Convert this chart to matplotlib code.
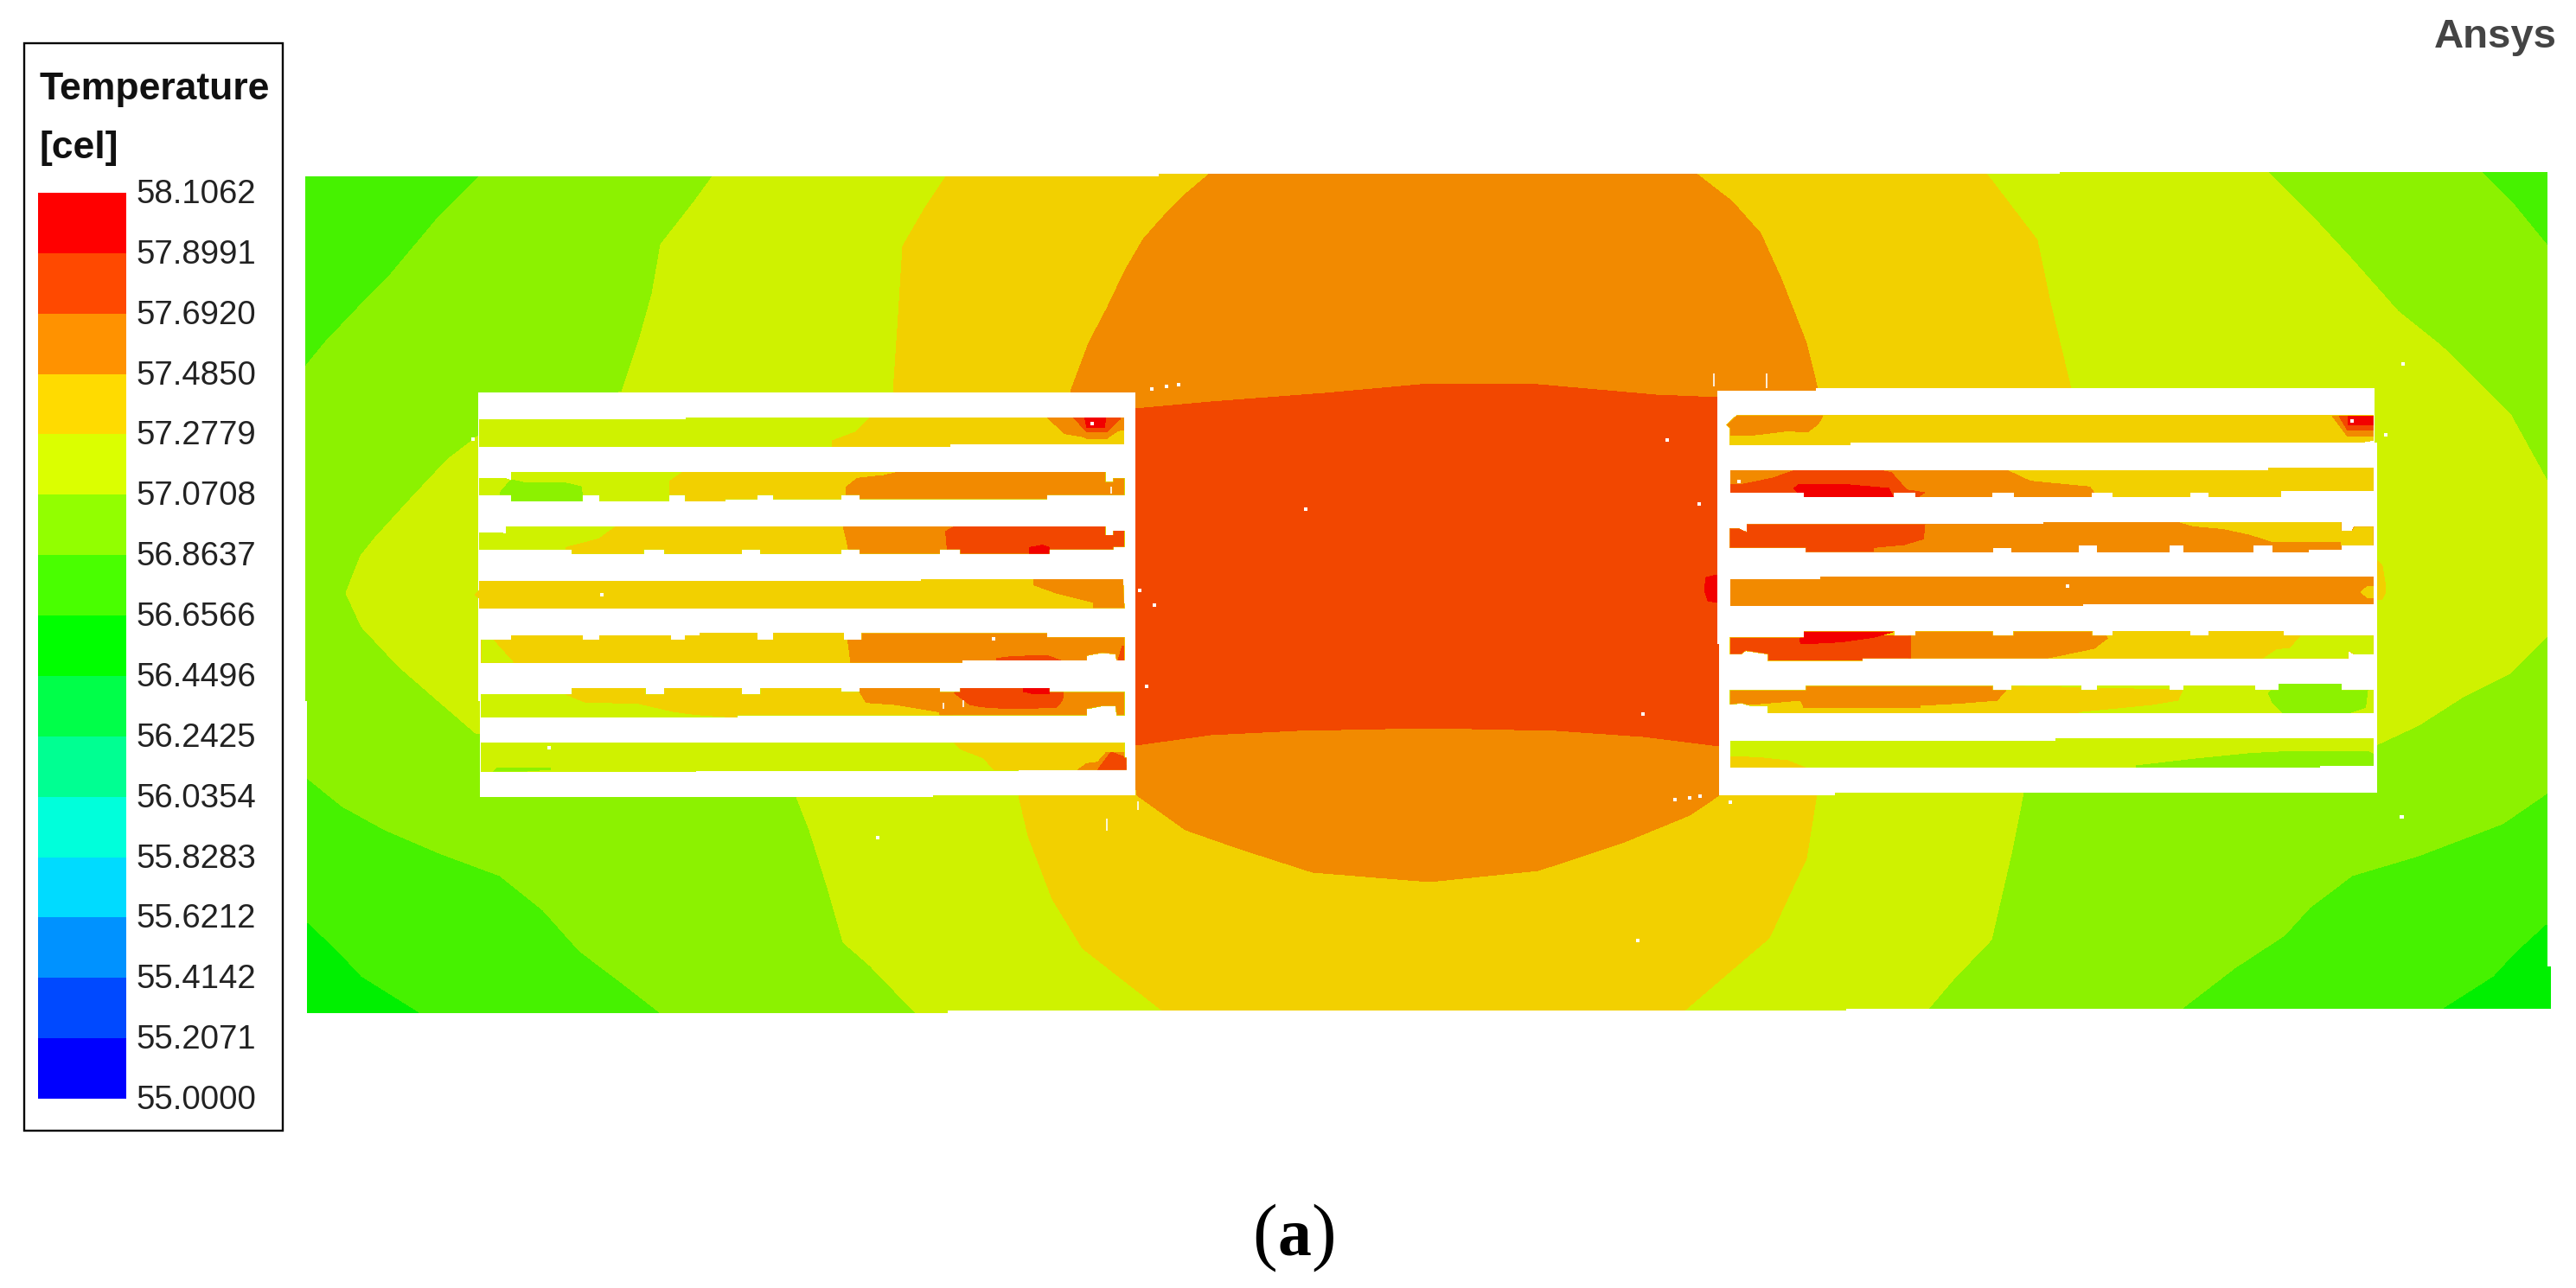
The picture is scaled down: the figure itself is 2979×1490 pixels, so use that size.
import numpy as np
import matplotlib
matplotlib.use('Agg')
import matplotlib.pyplot as plt
from matplotlib.colors import ListedColormap
from matplotlib.patches import Polygon, Rectangle
from matplotlib.transforms import ScaledTranslation

plt.rcParams['font.family'] = ['Liberation Sans', 'DejaVu Sans']

# legend
LEVELS = [55.0000, 55.2071, 55.4142, 55.6212, 55.8283, 56.0354, 56.2425, 56.4496,
          56.6566, 56.8637, 57.0708, 57.2779, 57.4850, 57.6920, 57.8991, 58.1062]
LEVEL_LABELS = ['55.0000', '55.2071', '55.4142', '55.6212', '55.8283', '56.0354', '56.2425', '56.4496',
                '56.6566', '56.8637', '57.0708', '57.2779', '57.4850', '57.6920', '57.8991', '58.1062']
BAND_COLORS = ['#0000FF', '#0049FF', '#0092FF', '#00DBFF', '#00FFDB', '#00FF92', '#00FF49', '#00FF00',
               '#49FF00', '#92FF00', '#DBFF00', '#FFDB00', '#FF9200', '#FF4900', '#FF0000']

# shaded field colours, coolest to hottest
C0, C1, C2, C3, C4, C5, C6, C7 = ('#00F000', '#46F200', '#8CF200', '#CFF200',
                                 '#F2D000', '#F28A00', '#F24700', '#F20000')

# field contours, in picture pixels
FIELD = [(353, 204), (1340, 204), (1340, 201), (2382, 201), (2382, 199), (2946, 199), (2946, 1118), (2950, 1118),
         (2950, 1167), (2135, 1167), (2135, 1169), (1096, 1169), (1096, 1172), (355, 1172), (355, 811), (353, 811)]
CORNER_L = [(340, 1068), (355, 1068), (389, 1100), (417, 1130), (484, 1172), (340, 1180)]
CORNER_R = [(2960, 1070), (2945, 1070), (2909, 1103), (2884, 1130), (2826, 1167), (2826, 1180), (2960, 1180)]
BAND_C2 = [(554, 190), (554, 204), (508, 250), (452, 317), (410, 360), (375, 397), (354, 423), (340, 423),
           (340, 900), (355, 900), (396, 933), (445, 960), (508, 987), (578, 1013), (628, 1053), (670, 1100),
           (719, 1137), (764, 1172), (764, 1180), (2523, 1180), (2523, 1167), (2584, 1120), (2642, 1082),
           (2671, 1050), (2720, 1013), (2797, 990), (2894, 953), (2945, 918), (2960, 918), (2960, 283),
           (2945, 283), (2904, 233), (2870, 199), (2870, 190)]
BAND_C3 = [(824, 190), (824, 204), (803, 233), (764, 283), (754, 340), (740, 390), (719, 453), (552, 505), (517, 532),
           (473, 579), (433, 623), (417, 643), (400, 686), (418, 725), (460, 770), (507, 811), (550, 848),
           (921, 922), (936, 960), (957, 1027), (975, 1090), (1006, 1117), (1059, 1172), (1059, 1180),
           (2230, 1180), (2230, 1167), (2259, 1133), (2303, 1087), (2327, 983), (2340, 917), (2750, 861),
           (2797, 839), (2847, 807), (2903, 779), (2946, 736), (2960, 736), (2960, 557), (2946, 557), (2903, 479),
           (2863, 439), (2823, 400), (2773, 360), (2720, 300), (2671, 247), (2623, 199), (2623, 190)]
BAND_C4 = [(1094, 190), (1094, 204), (1070, 240), (1044, 285), (1038, 380), (1033, 453), (1178, 920), (1189, 967),
           (1217, 1040), (1252, 1097), (1343, 1168), (1343, 1180), (1949, 1180), (1949, 1168), (2046, 1085),
           (2089, 993), (2101, 918), (2395, 450), (2371, 350), (2356, 278), (2298, 202), (2298, 190)]
BUMP_C4 = [(2749, 648), (2755, 655), (2759, 680), (2759, 685), (2754, 694), (2749, 694)]
BAND_C5 = [(1399, 190), (1399, 201), (1368, 227), (1343, 253), (1322, 277), (1301, 313), (1280, 357), (1259, 397),
           (1238, 453), (1315, 920), (1371, 960), (1434, 982), (1518, 1009), (1653, 1020), (1779, 1007), (1876, 975),
           (1954, 943), (1988, 920), (2102, 450), (2089, 397), (2060, 323), (2036, 270), (2003, 233), (1963, 202), (1963, 190)]
BAND_C6 = [(1313, 473), (1400, 465), (1532, 455), (1653, 444), (1779, 445), (1915, 457), (1988, 460),
           (1988, 863), (1900, 852), (1800, 845), (1653, 842), (1500, 845), (1400, 850), (1313, 862)]
BULGE_C7 = [(1986, 665), (1973, 668), (1971, 682), (1975, 695), (1986, 697)]

BLOCK_L = [(553, 454), (1313, 454), (1313, 920), (1079, 920), (1079, 922), (555, 922), (555, 811), (553, 811)]
BLOCK_R = [(1986, 452), (2100, 452), (2100, 449), (2746, 449), (2746, 512), (2749, 512), (2749, 917),
           (2122, 917), (2122, 920), (1988, 920), (1988, 745), (1986, 745)]

# strips inside the left block, in crop units: (outline, base colour, [(colour, region), ...])
STRIPS_L = [
    ([(28, 165), (495, 165), (495, 158), (1490, 158), (1490, 252), (1095, 252), (1095, 260), (28, 260)], C3, [
        (C4, [(915, 158), (880, 210), (828, 240), (828, 260), (1095, 260), (1500, 252), (1500, 150)]),
        (C5, [(1315, 158), (1355, 215), (1395, 225), (1405, 232), (1450, 232), (1475, 205), (1500, 200), (1500, 150)]),
        (C6, [(1375, 158), (1405, 210), (1450, 210), (1480, 165), (1480, 158)]),
        (C7, [(1400, 158), (1405, 195), (1445, 195), (1448, 158)])]),
    ([(28, 370), (85, 370), (100, 378), (100, 348), (1447, 348), (1447, 383), (1465, 383), (1465, 370), (1490, 370),
      (1490, 428), (1315, 428), (1315, 442), (890, 442), (890, 428), (848, 428), (848, 442), (695, 442), (695, 428),
      (658, 428), (658, 442), (585, 442), (585, 450), (495, 450), (495, 428), (458, 428), (458, 450), (300, 450),
      (300, 428), (262, 428), (262, 450), (100, 450), (100, 428), (28, 428)], C3, [
        (C2, [(75, 420), (100, 375), (130, 385), (220, 385), (260, 400), (262, 450), (75, 450)]),
        (C4, [(490, 348), (980, 348), (880, 370), (860, 400), (860, 450), (460, 450), (460, 380)]),
        (C5, [(980, 348), (1500, 348), (1500, 450), (860, 450), (860, 400), (885, 370), (945, 360)])]),
    ([(28, 560), (80, 560), (90, 565), (90, 537), (1447, 537), (1447, 567), (1465, 567), (1465, 552), (1490, 552),
      (1490, 608), (1465, 608), (1465, 617), (1320, 617), (1320, 632), (1118, 632), (1118, 617), (1072, 617), (1072, 632),
      (890, 632), (890, 617), (848, 617), (848, 632), (665, 632), (665, 617), (623, 617), (623, 632), (448, 632),
      (448, 617), (400, 617), (400, 632), (238, 632), (238, 617), (28, 617)], C3, [
        (C4, [(338, 537), (855, 537), (868, 640), (225, 640), (225, 610), (300, 580)]),
        (C5, [(853, 537), (1105, 537), (1085, 555), (1090, 640), (868, 640), (860, 580)]),
        (C6, [(1105, 537), (1500, 537), (1500, 640), (1090, 640), (1085, 555)]),
        (C7, [(1275, 632), (1275, 610), (1305, 602), (1320, 610), (1320, 632)])]),
    ([(28, 727), (1030, 727), (1030, 720), (1487, 720), (1490, 820), (28, 820), (28, 785), (18, 775), (28, 760)], C4, [
        (C5, [(1285, 720), (1500, 720), (1500, 820), (1420, 820), (1420, 800), (1340, 770), (1285, 740)])]),
    ([(33, 930), (100, 930), (100, 915), (262, 915), (262, 930), (300, 930), (300, 915), (462, 915), (462, 930), (495, 930),
      (495, 915), (528, 915), (528, 908), (658, 908), (658, 930), (695, 930), (695, 908), (853, 908), (853, 930), (895, 930),
      (895, 908), (1315, 908), (1315, 922), (1490, 922), (1490, 1002), (1473, 1002), (1470, 980), (1440, 975), (1405, 985),
      (1405, 1002), (1123, 1002), (1123, 1010), (33, 1010)], C4, [
        (C3, [(33, 930), (58, 930), (105, 1010), (33, 1010)]),
        (C5, [(860, 908), (1500, 908), (1500, 1010), (870, 1010), (865, 950)]),
        (C6, [(1200, 1002), (1200, 995), (1240, 988), (1315, 985), (1345, 1002)]),
        (C6, [(1485, 950), (1490, 950), (1490, 1002), (1475, 1002)])]),
    ([(33, 1120), (238, 1120), (238, 1098), (404, 1098), (404, 1120), (447, 1120), (447, 1098), (623, 1098), (623, 1120),
      (666, 1120), (666, 1098), (848, 1098), (848, 1112), (890, 1112), (890, 1098), (1072, 1098), (1072, 1112), (1118, 1112),
      (1118, 1098), (1320, 1098), (1320, 1112), (1490, 1112), (1490, 1192), (1473, 1192), (1470, 1160), (1440, 1160),
      (1405, 1170), (1405, 1192), (612, 1192), (612, 1200), (33, 1200)], C3, [
        (C4, [(225, 1120), (270, 1148), (385, 1150), (470, 1180), (520, 1190), (612, 1200), (1100, 1200), (1100, 1098), (238, 1098)]),
        (C5, [(885, 1098), (1500, 1098), (1500, 1200), (1075, 1200), (1070, 1180), (970, 1155), (905, 1148)]),
        (C6, [(1118, 1098), (1320, 1098), (1352, 1112), (1350, 1140), (1335, 1165), (1235, 1170), (1165, 1163), (1140, 1155), (1105, 1115)]),
        (C7, [(1262, 1098), (1320, 1098), (1320, 1118), (1285, 1118), (1262, 1110)])]),
    ([(33, 1288), (1490, 1288), (1490, 1340), (1495, 1340), (1495, 1382), (33, 1388)], C3, [
        (C2, [(60, 1388), (70, 1375), (190, 1375), (190, 1380), (118, 1388)]),
        (C4, [(1105, 1288), (1500, 1288), (1500, 1388), (1200, 1388), (1170, 1340), (1120, 1310)]),
        (C5, [(1385, 1382), (1405, 1360), (1430, 1355), (1450, 1320), (1490, 1320), (1495, 1385)]),
        (C6, [(1430, 1382), (1450, 1340), (1460, 1320), (1495, 1340), (1495, 1385)])]),
]

STRIPS_R = [
    ([(95, 152), (1538, 152), (1538, 238), (1510, 245), (352, 245), (352, 253), (80, 253), (80, 195), (72, 185)], C4, [
        (C5, [(95, 152), (290, 152), (280, 180), (255, 210), (210, 205), (175, 212), (120, 222), (80, 222), (72, 185)]),
        (C5, [(1445, 152), (1538, 152), (1538, 225), (1480, 225)]),
        (C6, [(1460, 152), (1538, 152), (1538, 205), (1480, 205)]),
        (C7, [(1480, 152), (1538, 152), (1538, 185), (1480, 185)])]),
    ([(80, 341), (1300, 341), (1300, 333), (1538, 333), (1538, 413), (1328, 413), (1328, 435), (1165, 435), (1165, 421),
      (1123, 421), (1123, 435), (947, 435), (947, 421), (900, 421), (900, 435), (723, 435), (723, 421), (675, 421), (675, 435),
      (500, 435), (500, 421), (451, 421), (451, 435), (247, 435), (247, 421), (80, 421)], C4, [
        (C5, [(80, 341), (705, 341), (760, 380), (895, 400), (905, 421), (905, 440), (80, 440)]),
        (C6, [(80, 390), (110, 390), (175, 370), (230, 341), (415, 341), (445, 350), (480, 410), (520, 420), (500, 440), (247, 440), (80, 421)]),
        (C7, [(225, 405), (235, 392), (345, 392), (440, 405), (451, 440), (247, 440)])]),
    ([(80, 545), (100, 545), (118, 558), (118, 530), (790, 530), (790, 522), (1465, 522), (1465, 552), (1490, 552), (1495, 538),
      (1538, 538), (1538, 603), (1465, 603), (1465, 617), (1390, 617), (1390, 625), (1310, 625), (1310, 603), (1266, 603),
      (1266, 625), (1108, 625), (1108, 603), (1075, 603), (1075, 625), (913, 625), (913, 603), (870, 603), (870, 625), (718, 625),
      (718, 610), (675, 610), (675, 625), (252, 625), (252, 610), (80, 610)], C5, [
        (C4, [(1100, 522), (1540, 522), (1540, 603), (1465, 603), (1465, 590), (1310, 590), (1260, 565), (1200, 545), (1130, 535)]),
        (C6, [(80, 520), (522, 520), (518, 580), (475, 600), (405, 610), (405, 630), (252, 630), (80, 610)])]),
    ([(80, 720), (285, 720), (285, 712), (1538, 712), (1538, 806), (880, 806), (880, 813), (80, 813)], C5, [
        (C4, [(1510, 765), (1525, 745), (1545, 745), (1545, 785), (1525, 785)])]),
    ([(80, 923), (247, 923), (247, 902), (451, 902), (451, 916), (500, 916), (500, 902), (675, 902), (675, 916), (723, 916),
      (723, 902), (900, 902), (900, 916), (947, 916), (947, 902), (1123, 902), (1123, 916), (1166, 916), (1166, 902), (1333, 902),
      (1333, 916), (1538, 916), (1538, 981), (1495, 981), (1482, 968), (1480, 995), (380, 995), (380, 1003), (166, 1003),
      (166, 980), (115, 968), (105, 980), (80, 980)], C4, [
        (C3, [(1375, 916), (1540, 916), (1540, 1000), (1285, 1000), (1320, 965), (1350, 960)]),
        (C5, [(485, 902), (925, 902), (935, 925), (905, 960), (795, 995), (795, 1000), (485, 1000)]),
        (C6, [(80, 916), (490, 916), (490, 1003), (80, 1003)]),
        (C7, [(247, 902), (451, 902), (405, 922), (330, 938), (240, 945), (238, 928)])]),
    ([(80, 1106), (252, 1106), (252, 1091), (675, 1091), (675, 1105), (718, 1105), (718, 1091), (875, 1091), (875, 1105),
      (913, 1105), (913, 1091), (1075, 1091), (1075, 1105), (1108, 1105), (1108, 1091), (1270, 1091), (1270, 1105), (1323, 1105),
      (1323, 1083), (1466, 1083), (1466, 1105), (1538, 1105), (1538, 1185), (166, 1185), (166, 1160), (130, 1160), (105, 1150), (80, 1155)], C3, [
        (C4, [(80, 1091), (720, 1091), (1105, 1105), (1095, 1140), (1035, 1155), (970, 1165), (870, 1180), (870, 1190), (166, 1190), (80, 1160)]),
        (C5, [(80, 1091), (675, 1091), (705, 1105), (685, 1140), (605, 1150), (510, 1158), (510, 1165), (247, 1165), (240, 1140), (165, 1150), (80, 1160)]),
        (C2, [(1323, 1083), (1466, 1083), (1466, 1105), (1525, 1105), (1520, 1165), (1480, 1185), (1333, 1185), (1310, 1150), (1300, 1115)])]),
    ([(80, 1280), (818, 1280), (818, 1273), (1538, 1273), (1538, 1367), (1418, 1367), (1418, 1374), (80, 1374)], C3, [
        (C4, [(80, 1335), (150, 1340), (210, 1350), (250, 1374), (80, 1374)]),
        (C2, [(1000, 1374), (1000, 1368), (1130, 1345), (1260, 1325), (1350, 1318), (1525, 1318), (1540, 1330), (1540, 1374)])]),
]

# mesh gaps showing as white specks
SPECK_X = [1332, 1349, 1363, 1015, 1937, 1954, 1966, 2001, 1894, 2778, 1318, 1335, 1326, 1965, 1966, 547, 2779, 2759, 2777,
           1510, 1928, 1900, 1263, 2720, 2391, 635, 696, 2011, 1149]
SPECK_Y = [450, 447, 445, 969, 925, 923, 921, 928, 1088, 945, 683, 700, 794, 583, 921, 508, 421, 503, 945,
           589, 509, 826, 490, 487, 678, 865, 688, 557, 739]
SLIT_X = [1982, 2043, 1316, 1280, 1091, 1114, 1285]
SLIT_Y0 = [432, 432, 927, 947, 813, 810, 563]
SLIT_Y1 = [447, 449, 937, 961, 820, 818, 571]


def left_crop(pts):
    pts = np.array(pts, dtype=float)
    return np.column_stack([540 + pts[:, 0] / 1.96, 430 + pts[:, 1] / 3])


def right_crop(pts):
    pts = np.array(pts, dtype=float)
    return np.column_stack([1960 + pts[:, 0] / 1.96, 430 + pts[:, 1] / 3])


def add_poly(ax, pts, color, clip=None):
    patch = Polygon(pts, closed=True, facecolor=color, edgecolor='none', linewidth=0, antialiased=False)
    ax.add_patch(patch)
    if clip is not None:
        patch.set_clip_path(clip)
    return patch


fig = plt.figure(figsize=(29.79, 14.90), dpi=100, facecolor='white')
ax = fig.add_axes([0, 0, 1, 1])
ax.set_xlim(0, 2979)
ax.set_ylim(1490, 0)
ax.axis('off')

# contour field
field = add_poly(ax, FIELD, C1)
for pts, color in [(CORNER_L, C0), (CORNER_R, C0), (BAND_C2, C2), (BAND_C3, C3), (BUMP_C4, C4),
                   (BAND_C4, C4), (BAND_C5, C5), (BAND_C6, C6), (BULGE_C7, C7)]:
    add_poly(ax, pts, color, clip=field)

# windings
add_poly(ax, BLOCK_L, 'white')
add_poly(ax, BLOCK_R, 'white')
for strips, convert in [(STRIPS_L, left_crop), (STRIPS_R, right_crop)]:
    for outline, base, regions in strips:
        strip = add_poly(ax, convert(outline), base)
        for color, region in regions:
            add_poly(ax, convert(region), color, clip=strip)

ax.plot(SPECK_X, SPECK_Y, linestyle='', marker='s', markersize=2.2, color='white', markeredgewidth=0)
ax.vlines(SLIT_X, SLIT_Y0, SLIT_Y1, color='white', linewidth=1.2)

# legend box
ax.add_patch(Rectangle((28, 50), 299, 1258, facecolor='none', edgecolor='black', linewidth=1.7))
ax.text(45, 115, 'Temperature', fontsize=32, fontweight='bold', color='#111111', ha='left', va='baseline')
ax.text(45, 183, '[cel]', fontsize=32, fontweight='bold', color='#111111', ha='left', va='baseline')

cax = fig.add_axes([44 / 2979, 1 - 1271 / 1490, 102 / 2979, 1048 / 1490])
values = np.arange(len(BAND_COLORS)).reshape(-1, 1)
cax.pcolormesh([0, 1], LEVELS, values, cmap=ListedColormap(BAND_COLORS), shading='flat')
cax.set_ylim(LEVELS[0], LEVELS[-1])
cax.set_xticks([])
cax.yaxis.tick_right()
cax.set_yticks(LEVELS)
cax.set_yticklabels(LEVEL_LABELS, fontsize=27.6, color='#222222')
cax.tick_params(axis='y', length=0, pad=8)
for label in cax.get_yticklabels():
    label.set_transform(label.get_transform() + ScaledTranslation(0, 0.02, fig.dpi_scale_trans))
for spine in cax.spines.values():
    spine.set_visible(False)

ax.text(2957, 55, 'Ansys', fontsize=34, fontweight='bold', color='#444444', ha='right', va='baseline')

# (a) has light brackets round a bold letter
serif = ['Liberation Serif', 'DejaVu Serif']
ax.text(1463, 1452, '(', fontsize=62, color='black', ha='center', va='baseline', family=serif)
ax.text(1497, 1452, 'a', fontsize=56, fontweight='bold', color='black', ha='center', va='baseline', family=serif)
ax.text(1531, 1452, ')', fontsize=62, color='black', ha='center', va='baseline', family=serif)

fig.savefig('out.png', dpi=100)
